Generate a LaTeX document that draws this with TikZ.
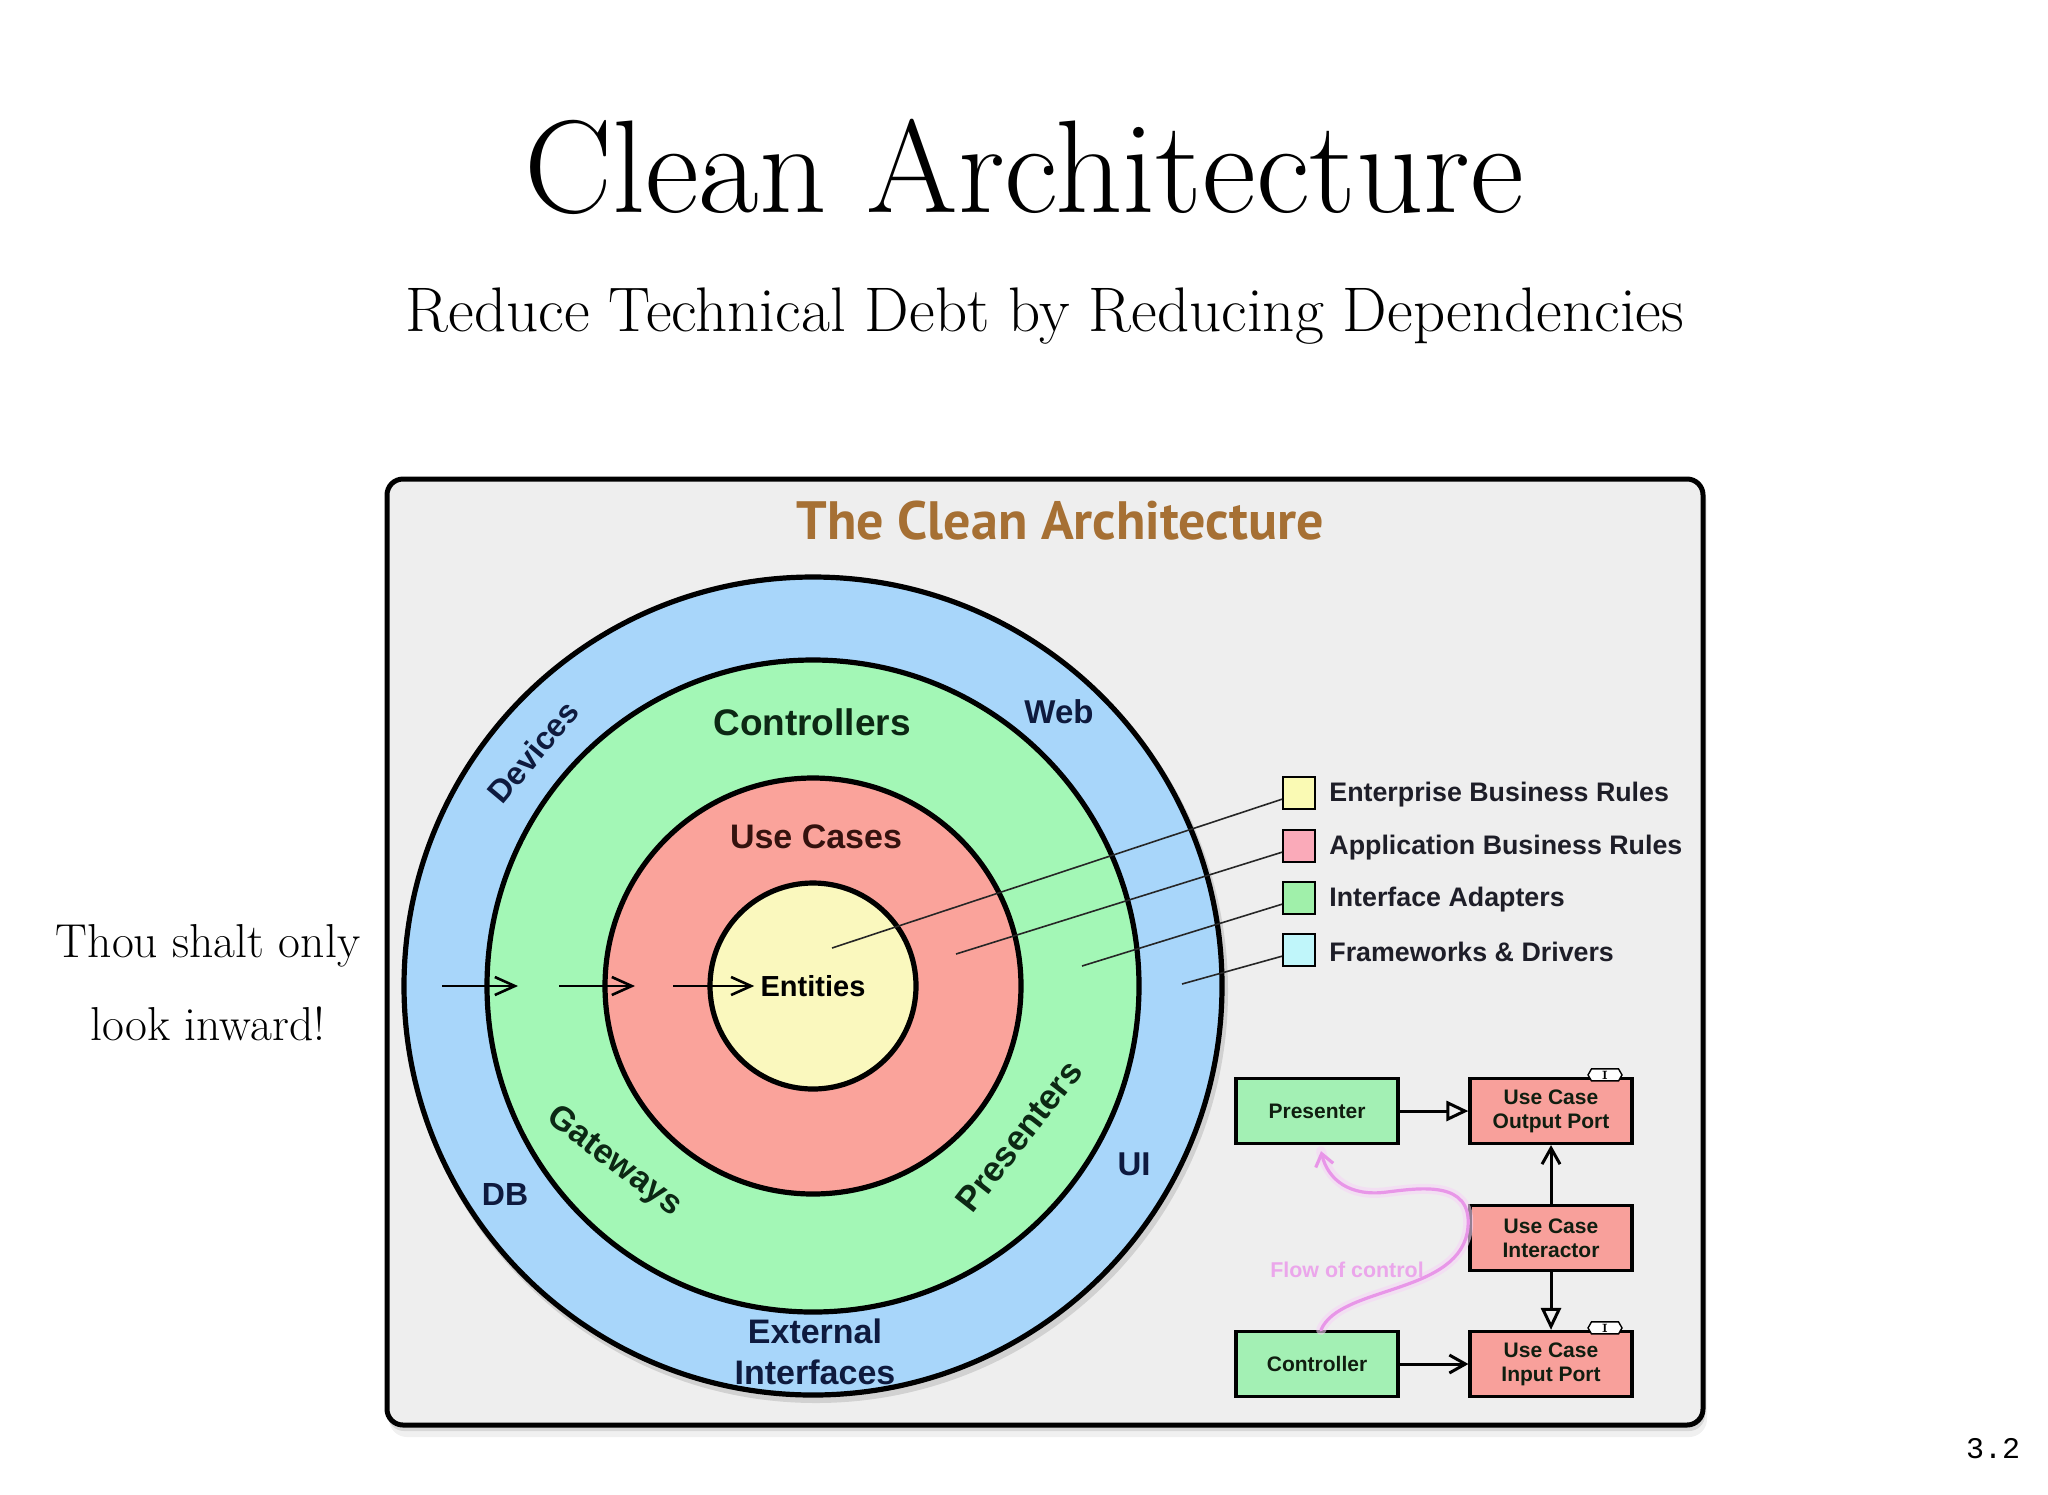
\documentclass[tikz,border=0pt]{standalone}
\usepackage{fontspec}
\setsansfont{Liberation Sans}
\setmonofont{Liberation Mono}
\newfontfamily\ptsans{PT Sans}
\usetikzlibrary{arrows.meta,shapes.symbols}

\definecolor{boxgray}{RGB}{238,238,238}
\definecolor{ringblue}{RGB}{168,214,250}
\definecolor{ringgreen}{RGB}{163,247,182}
\definecolor{ringred}{RGB}{250,163,155}
\definecolor{ringyellow}{RGB}{250,248,190}
\definecolor{legyellow}{RGB}{250,250,180}
\definecolor{legpink}{RGB}{250,170,185}
\definecolor{leggreen}{RGB}{160,240,170}
\definecolor{legcyan}{RGB}{192,246,250}
\definecolor{boxgreen}{RGB}{163,240,180}
\definecolor{boxred}{RGB}{248,160,155}
\definecolor{brown}{RGB}{166,112,52}
\definecolor{navytext}{RGB}{14,26,62}
\definecolor{greentext}{RGB}{12,40,20}
\definecolor{redtext}{RGB}{52,18,14}
\definecolor{legtext}{RGB}{30,30,40}
\definecolor{boxtext}{RGB}{16,30,16}
\definecolor{flowpink}{RGB}{232,150,232}

\begin{document}
\begin{tikzpicture}[x=0.5pt,y=-0.5pt,
  ring/.style={circle, draw=black, line width=2.6pt, inner sep=0pt},
  lbl/.style={font=\sffamily\bfseries\fontsize{#1}{#1}\selectfont, inner sep=1pt},
  inarrow/.style={line width=1.3pt, -{Straight Barb[length=10pt,width=9pt]}},
  legsq/.style={draw=black, line width=1pt, minimum size=16pt, inner sep=0pt},
  legtxt/.style={font=\sffamily\bfseries\fontsize{13.4}{16}\selectfont, text=legtext, anchor=west, inner sep=0pt},
  legline/.style={line width=0.8pt, draw=black!85},
  ucbox/.style={draw=black, line width=1.6pt, minimum width=81pt, minimum height=32.5pt, inner sep=0pt, align=center, font=\sffamily\bfseries\fontsize{10.5}{12}\selectfont, text=boxtext},
  iface/.style={signal, signal to=west and east, signal pointer angle=120, draw=black, line width=0.7pt, fill=white, font=\rmfamily\bfseries\fontsize{6}{6}\selectfont, inner sep=0.3pt, minimum width=17pt, minimum height=6pt},
  umlarrow/.style={line width=1.5pt, -{Triangle[open, length=11pt, width=10pt]}},
  barbarrow/.style={line width=1.5pt, -{Straight Barb[length=8pt, width=9pt]}},
  flowglow/.style={draw=flowpink!40, line width=5pt, line cap=round, opacity=0.6},
  flow/.style={draw=flowpink, line width=1.6pt, line cap=round, -{Straight Barb[length=6pt,width=9pt]}},
]
\useasboundingbox (0,0) rectangle (2048,1494);
\fill[white] (0,0) rectangle (2048,1494);

% titles
\node[font=\fontsize{66}{74}\selectfont, anchor=base, inner sep=0pt] (title) at (1024,212) {Clean Architecture};
\node[font=\fontsize{31.5}{36}\selectfont, anchor=base, inner sep=0pt] (subtitle) at (1045,331) {Reduce Technical Debt by Reducing Dependencies};

\node[font=\fontsize{23.8}{28}\selectfont, anchor=base, inner sep=0pt] (thou1) at (208,957) {Thou shalt only};
\node[font=\fontsize{23.8}{28}\selectfont, anchor=base, inner sep=0pt] (thou2) at (208,1040) {look inward!};

% main box with shadow
\fill[black, opacity=0.06, rounded corners=9pt] (389,485) rectangle (1707,1437);
\fill[black, opacity=0.10, rounded corners=8pt] (388,483) rectangle (1705,1431);
\draw[line width=2.5pt, rounded corners=8pt, fill=boxgray] (387,479) rectangle (1703,1425);

\node[font=\ptsans\bfseries\fontsize{27}{30}\selectfont, text=brown, anchor=base, inner sep=0pt] (boxtitle) at (1060,539) {The Clean Architecture};

% rings
\fill[black, opacity=0.12] (816,991) circle[radius=412];
\node[ring, fill=ringblue, minimum size=409pt] (outer) at (813,986) {};
\node[ring, fill=ringgreen, minimum size=326pt] (green) at (813,986) {};
\node[ring, fill=ringred, minimum size=208pt] (red) at (813,986) {};
\node[ring, fill=ringyellow, minimum size=103pt] (ent) at (813,986) {};

% ring labels
\node[lbl=18.5, text=greentext] (controllers) at (812,722) {Controllers};
\node[lbl=17, text=redtext] (usecases) at (816,837) {Use Cases};
\node[lbl=14.5, text=black, inner sep=3pt] (entlbl) at (813,986) {Entities};
\node[lbl=16, text=navytext, rotate=50] (devices) at (533,752) {Devices};
\node[lbl=16.5, text=navytext] (web) at (1059,712) {Web};
\node[lbl=16, text=navytext] (db) at (505,1194) {DB};
\node[lbl=16.5, text=navytext] (ui) at (1134,1164) {UI};
\node[lbl=17, text=greentext, rotate=-37] (gateways) at (614,1162) {Gateways};
\node[lbl=17.5, text=greentext, rotate=52] (presenters) at (1019,1136) {Presenters};
\node[lbl=17, text=navytext, align=center, font=\sffamily\bfseries\fontsize{17}{20.5}\selectfont] (external) at (815,1352) {External\\Interfaces};

% inward arrows
\coordinate (a1s) at (442,986);
\coordinate (a1e) at (518,986);
\coordinate (a2s) at (559,986);
\coordinate (a2e) at (635,986);
\coordinate (a3s) at (673,986);
\draw[inarrow] (a1s) -- (a1e);
\draw[inarrow] (a2s) -- (a2e);
\draw[inarrow] (a3s) -- (entlbl.west);

% legend
\node[legsq, fill=legyellow] (sq1) at (1299,793) {};
\node[legsq, fill=legpink] (sq2) at (1299,846) {};
\node[legsq, fill=leggreen] (sq3) at (1299,898) {};
\node[legsq, fill=legcyan] (sq4) at (1299,950) {};
\node[legtxt] (lt1) at (1329,795) {Enterprise Business Rules};
\node[legtxt] (lt2) at (1329,848) {Application Business Rules};
\node[legtxt] (lt3) at (1329,900) {Interface Adapters};
\node[legtxt] (lt4) at (1329,952) {Frameworks \& Drivers};

\coordinate (e1) at (832,948);
\coordinate (e2) at (956,954);
\coordinate (e3) at (1082,966);
\coordinate (e4) at (1182,984);
\draw[legline] (sq1.200) -- (e1);
\draw[legline] (sq2.200) -- (e2);
\draw[legline] (sq3.200) -- (e3);
\draw[legline] (sq4.200) -- (e4);

% use case diagram
\node[ucbox, fill=boxgreen] (pres) at (1317,1111) {Presenter};
\node[ucbox, fill=boxred] (out) at (1551,1111) {Use Case\\Output Port};
\node[ucbox, fill=boxred] (inter) at (1551,1238) {Use Case\\Interactor};
\node[ucbox, fill=boxgreen] (ctrl) at (1317,1364) {Controller};
\node[ucbox, fill=boxred] (inp) at (1551,1364) {Use Case\\Input Port};

\node[iface] (outi) at ([xshift=27pt,yshift=1pt]out.north) {I};
\node[iface] (inpi) at ([xshift=27pt,yshift=1pt]inp.north) {I};

\draw[umlarrow] (pres.east) -- (out.west);
\draw[barbarrow] (ctrl.east) -- (inp.west);
\draw[barbarrow] (inter.north) -- (out.south);
\draw[umlarrow] (inter.south) -- (inp.north);

% flow of control
\coordinate (w1) at (1468,1227);
\coordinate (w2) at (1387,1192);
\draw[flowglow] ([xshift=2pt]ctrl.north) .. controls (1340,1285) and (1462,1295) .. (w1) .. controls (1472,1180) and (1420,1188) .. (w2) .. controls (1350,1197) and (1328,1180) .. ([xshift=2pt,yshift=-3pt]pres.south);
\draw[flow] ([xshift=2pt]ctrl.north) .. controls (1340,1285) and (1462,1295) .. (w1) .. controls (1472,1180) and (1420,1188) .. (w2) .. controls (1350,1197) and (1328,1180) .. ([xshift=2pt,yshift=-3pt]pres.south);
\node[font=\sffamily\bfseries\fontsize{10.7}{12}\selectfont, text=flowpink!85, inner sep=0pt] (flowlbl) at (1347,1270) {Flow of control};

% page number
\node[font=\ttfamily\fontsize{15}{15}\selectfont, inner sep=0pt] (pagenum) at (1993,1449) {3.2};
\end{tikzpicture}
\end{document}
